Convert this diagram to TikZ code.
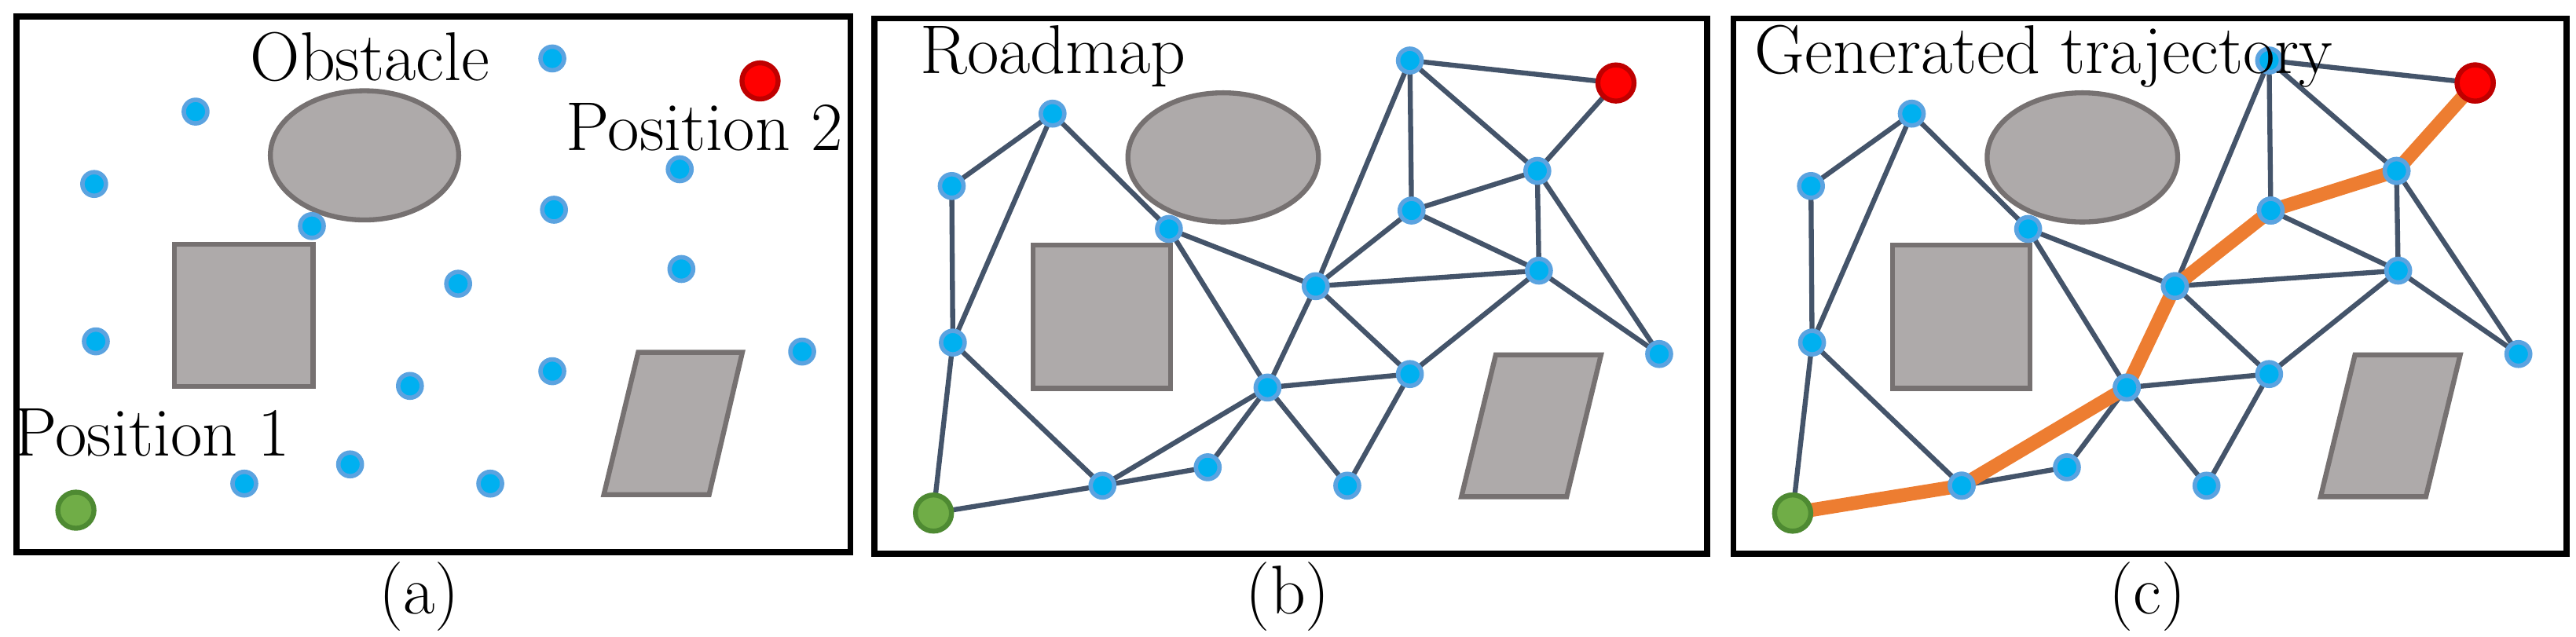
\documentclass[tikz,border=0pt]{standalone}
\usetikzlibrary{backgrounds}
\definecolor{edgec}{HTML}{44546A}
\definecolor{obfill}{HTML}{AEAAAA}
\definecolor{obdraw}{HTML}{767171}
\definecolor{dotin}{HTML}{00B0F0}
\definecolor{dotout}{HTML}{5BA3E0}
\definecolor{orng}{HTML}{ED7D31}
\definecolor{gfill}{HTML}{70AD47}
\definecolor{gdraw}{HTML}{4E8A32}
\tikzset{
  frame/.style={draw=black,line width=2.2pt},
  obst/.style={draw=obdraw,fill=obfill,line width=1.8pt},
  dot/.style={circle,fill=dotin,draw=dotout,line width=1.6pt,minimum size=0.3cm,inner sep=0pt},
  start/.style={circle,fill=gfill,draw=gdraw,line width=1.8pt,minimum size=0.46cm,inner sep=0pt},
  goal/.style={circle,fill=red,draw=red!75!black,line width=1.8pt,minimum size=0.46cm,inner sep=0pt},
  edge/.style={draw=edgec,line width=1.8pt},
  path/.style={draw=orng,line width=5pt,line cap=round,line join=round},
  lbl/.style={font=\fontsize{25}{30}\selectfont,inner sep=0pt},
}
\newcommand\roadgraph[1]{%
  \draw[frame] (18,45) rectangle (1522,1355);
  \draw[obst] (648,385) ellipse [x radius=172,y radius=158];
  \draw[obst] (305,600) rectangle (553,950);
  \draw[obst] (1140,868) -- (1330,868) -- (1268,1215) -- (1078,1215) -- cycle;
  \node[start] (#1G) at (125,1255) {};
  \node[goal]  (#1R) at (1357,203) {};
  \node[dot] (#1n1) at (158,455) {};
  \node[dot] (#1n2) at (340,278) {};
  \node[dot] (#1n3) at (160,838) {};
  \node[dot] (#1n4) at (550,560) {};
  \node[dot] (#1n5) at (430,1188) {};
  \node[dot] (#1n6) at (620,1143) {};
  \node[dot] (#1n7) at (815,700) {};
  \node[dot] (#1n8) at (728,948) {};
  \node[dot] (#1n9) at (872,1188) {};
  \node[dot] (#1n10) at (985,915) {};
  \node[dot] (#1n11) at (985,148) {};
  \node[dot] (#1n12) at (988,515) {};
  \node[dot] (#1n13) at (1215,418) {};
  \node[dot] (#1n14) at (1218,662) {};
  \node[dot] (#1n15) at (1435,866) {};
  \begin{scope}[on background layer]
    \foreach \a/\b in {n2/n1,n2/n3,n2/n4,n1/n3,n3/G,n3/n5,G/n5,n5/n6,n5/n8,n6/n8,
      n4/n8,n4/n7,n7/n8,n7/n11,n7/n12,n7/n14,n7/n10,n8/n10,n8/n9,n9/n10,n10/n14,
      n11/R,n11/n12,n11/n13,R/n13,n13/n12,n13/n14,n12/n14,n13/n15,n14/n15}
      \draw[edge] (#1\a.center) -- (#1\b.center);
  \end{scope}
}
\begin{document}
\begin{tikzpicture}[x=0.00705cm,y=-0.005208cm]
\useasboundingbox (0,0) rectangle (4650,1557);
% panel (a)
\draw[frame] (30,40) rectangle (1535,1350);
\draw[obst] (658,380) ellipse [x radius=170,y radius=158];
\draw[obst] (315,597) rectangle (565,945);
\draw[obst] (1152,862) -- (1340,862) -- (1280,1210) -- (1090,1210) -- cycle;
\node[lbl] (tobs) at (668,140) {Obstacle};
\node[lbl] (tp2) at (1272,310) {Position 2};
\node[lbl] (tp1) at (274,1058) {Position 1};
\node[goal] (aR) at (1372,198) {};
\node[start] (aG) at (137,1248) {};
\foreach \x/\y [count=\i] in {997/143,353/273,170/450,1227/414,1000/513,563/553,827/694,1230/658,173/835,1448/860,997/908,740/944,632/1136,441/1183,885/1183}
  \node[dot] (a\i) at (\x,\y) {};
\node[lbl] (capa) at (757,1460) {(a)};
% panel (b)
\begin{scope}[xshift=1560*0.00705cm]
  \roadgraph{b}
  \node[lbl,anchor=base west] (troad) at (100,180) {Roadmap};
  \node[lbl] (capb) at (765,1460) {(b)};
\end{scope}
% panel (c)
\begin{scope}[xshift=3111*0.00705cm]
  \roadgraph{c}
  \node[lbl,anchor=base west] (tgen) at (56,180) {Generated trajectory};
  \node[lbl] (capc) at (765,1460) {(c)};
  \draw[path] (cG.center) -- (cn5.center) -- (cn8.center) -- (cn7.center) -- (cn12.center) -- (cn13.center) -- (cR.center);
  \node[start] at (cG) {};
  \node[goal] at (cR) {};
  \foreach \n in {n5,n8,n7,n12,n13} \node[dot] at (c\n) {};
\end{scope}
\end{tikzpicture}
\end{document}
